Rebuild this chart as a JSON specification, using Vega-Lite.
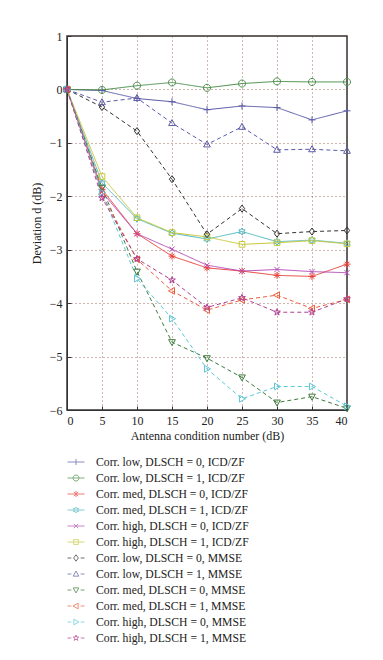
{
  "$schema": "https://vega.github.io/schema/vega-lite/v6.json",
  "width": 280,
  "height": 374,
  "padding": {"left": 30, "top": 30, "right": 5, "bottom": 5},
  "background": "white",
  "config": {
    "font": "Liberation Serif",
    "view": {"stroke": "#333333", "strokeWidth": 1.5},
    "axis": {
      "labelFont": "Liberation Serif", "labelFontSize": 12, "labelColor": "#222222",
      "titleFont": "Liberation Serif", "titleFontSize": 12, "titleColor": "#222222", "titleFontWeight": "normal",
      "domainColor": "#333333", "tickColor": "#333333", "tickSize": -4, "labelPadding": 9,
      "gridColor": "#8a4a3a", "gridDash": [1, 3], "gridOpacity": 0.8
    },
    "legend": {"labelFont": "Liberation Serif", "labelFontSize": 11.7, "labelColor": "#222222"}
  },
  "data": {"values": [
    {"s":"Corr. low, DLSCH = 0, ICD/ZF","m":"ICD/ZF","x":0,"y":0},
    {"s":"Corr. low, DLSCH = 0, ICD/ZF","m":"ICD/ZF","x":5,"y":-0.02},
    {"s":"Corr. low, DLSCH = 0, ICD/ZF","m":"ICD/ZF","x":10,"y":-0.17},
    {"s":"Corr. low, DLSCH = 0, ICD/ZF","m":"ICD/ZF","x":15,"y":-0.23},
    {"s":"Corr. low, DLSCH = 0, ICD/ZF","m":"ICD/ZF","x":20,"y":-0.38},
    {"s":"Corr. low, DLSCH = 0, ICD/ZF","m":"ICD/ZF","x":25,"y":-0.31},
    {"s":"Corr. low, DLSCH = 0, ICD/ZF","m":"ICD/ZF","x":30,"y":-0.34},
    {"s":"Corr. low, DLSCH = 0, ICD/ZF","m":"ICD/ZF","x":35,"y":-0.57},
    {"s":"Corr. low, DLSCH = 0, ICD/ZF","m":"ICD/ZF","x":40,"y":-0.4},
    {"s":"Corr. low, DLSCH = 1, ICD/ZF","m":"ICD/ZF","x":0,"y":0},
    {"s":"Corr. low, DLSCH = 1, ICD/ZF","m":"ICD/ZF","x":5,"y":-0.01},
    {"s":"Corr. low, DLSCH = 1, ICD/ZF","m":"ICD/ZF","x":10,"y":0.07},
    {"s":"Corr. low, DLSCH = 1, ICD/ZF","m":"ICD/ZF","x":15,"y":0.13},
    {"s":"Corr. low, DLSCH = 1, ICD/ZF","m":"ICD/ZF","x":20,"y":0.03},
    {"s":"Corr. low, DLSCH = 1, ICD/ZF","m":"ICD/ZF","x":25,"y":0.11},
    {"s":"Corr. low, DLSCH = 1, ICD/ZF","m":"ICD/ZF","x":30,"y":0.15},
    {"s":"Corr. low, DLSCH = 1, ICD/ZF","m":"ICD/ZF","x":35,"y":0.14},
    {"s":"Corr. low, DLSCH = 1, ICD/ZF","m":"ICD/ZF","x":40,"y":0.14},
    {"s":"Corr. med, DLSCH = 0, ICD/ZF","m":"ICD/ZF","x":0,"y":0},
    {"s":"Corr. med, DLSCH = 0, ICD/ZF","m":"ICD/ZF","x":5,"y":-1.87},
    {"s":"Corr. med, DLSCH = 0, ICD/ZF","m":"ICD/ZF","x":10,"y":-2.7},
    {"s":"Corr. med, DLSCH = 0, ICD/ZF","m":"ICD/ZF","x":15,"y":-3.12},
    {"s":"Corr. med, DLSCH = 0, ICD/ZF","m":"ICD/ZF","x":20,"y":-3.34},
    {"s":"Corr. med, DLSCH = 0, ICD/ZF","m":"ICD/ZF","x":25,"y":-3.4},
    {"s":"Corr. med, DLSCH = 0, ICD/ZF","m":"ICD/ZF","x":30,"y":-3.48},
    {"s":"Corr. med, DLSCH = 0, ICD/ZF","m":"ICD/ZF","x":35,"y":-3.5},
    {"s":"Corr. med, DLSCH = 0, ICD/ZF","m":"ICD/ZF","x":40,"y":-3.27},
    {"s":"Corr. med, DLSCH = 1, ICD/ZF","m":"ICD/ZF","x":0,"y":0},
    {"s":"Corr. med, DLSCH = 1, ICD/ZF","m":"ICD/ZF","x":5,"y":-1.75},
    {"s":"Corr. med, DLSCH = 1, ICD/ZF","m":"ICD/ZF","x":10,"y":-2.42},
    {"s":"Corr. med, DLSCH = 1, ICD/ZF","m":"ICD/ZF","x":15,"y":-2.69},
    {"s":"Corr. med, DLSCH = 1, ICD/ZF","m":"ICD/ZF","x":20,"y":-2.8},
    {"s":"Corr. med, DLSCH = 1, ICD/ZF","m":"ICD/ZF","x":25,"y":-2.66},
    {"s":"Corr. med, DLSCH = 1, ICD/ZF","m":"ICD/ZF","x":30,"y":-2.85},
    {"s":"Corr. med, DLSCH = 1, ICD/ZF","m":"ICD/ZF","x":35,"y":-2.82},
    {"s":"Corr. med, DLSCH = 1, ICD/ZF","m":"ICD/ZF","x":40,"y":-2.88},
    {"s":"Corr. high, DLSCH = 0, ICD/ZF","m":"ICD/ZF","x":0,"y":0},
    {"s":"Corr. high, DLSCH = 0, ICD/ZF","m":"ICD/ZF","x":5,"y":-1.92},
    {"s":"Corr. high, DLSCH = 0, ICD/ZF","m":"ICD/ZF","x":10,"y":-2.7},
    {"s":"Corr. high, DLSCH = 0, ICD/ZF","m":"ICD/ZF","x":15,"y":-2.99},
    {"s":"Corr. high, DLSCH = 0, ICD/ZF","m":"ICD/ZF","x":20,"y":-3.29},
    {"s":"Corr. high, DLSCH = 0, ICD/ZF","m":"ICD/ZF","x":25,"y":-3.4},
    {"s":"Corr. high, DLSCH = 0, ICD/ZF","m":"ICD/ZF","x":30,"y":-3.37},
    {"s":"Corr. high, DLSCH = 0, ICD/ZF","m":"ICD/ZF","x":35,"y":-3.41},
    {"s":"Corr. high, DLSCH = 0, ICD/ZF","m":"ICD/ZF","x":40,"y":-3.43},
    {"s":"Corr. high, DLSCH = 1, ICD/ZF","m":"ICD/ZF","x":0,"y":0},
    {"s":"Corr. high, DLSCH = 1, ICD/ZF","m":"ICD/ZF","x":5,"y":-1.63},
    {"s":"Corr. high, DLSCH = 1, ICD/ZF","m":"ICD/ZF","x":10,"y":-2.4},
    {"s":"Corr. high, DLSCH = 1, ICD/ZF","m":"ICD/ZF","x":15,"y":-2.68},
    {"s":"Corr. high, DLSCH = 1, ICD/ZF","m":"ICD/ZF","x":20,"y":-2.76},
    {"s":"Corr. high, DLSCH = 1, ICD/ZF","m":"ICD/ZF","x":25,"y":-2.9},
    {"s":"Corr. high, DLSCH = 1, ICD/ZF","m":"ICD/ZF","x":30,"y":-2.87},
    {"s":"Corr. high, DLSCH = 1, ICD/ZF","m":"ICD/ZF","x":35,"y":-2.83},
    {"s":"Corr. high, DLSCH = 1, ICD/ZF","m":"ICD/ZF","x":40,"y":-2.89},
    {"s":"Corr. low, DLSCH = 0, MMSE","m":"MMSE","x":0,"y":0},
    {"s":"Corr. low, DLSCH = 0, MMSE","m":"MMSE","x":5,"y":-0.33},
    {"s":"Corr. low, DLSCH = 0, MMSE","m":"MMSE","x":10,"y":-0.78},
    {"s":"Corr. low, DLSCH = 0, MMSE","m":"MMSE","x":15,"y":-1.68},
    {"s":"Corr. low, DLSCH = 0, MMSE","m":"MMSE","x":20,"y":-2.71},
    {"s":"Corr. low, DLSCH = 0, MMSE","m":"MMSE","x":25,"y":-2.23},
    {"s":"Corr. low, DLSCH = 0, MMSE","m":"MMSE","x":30,"y":-2.7},
    {"s":"Corr. low, DLSCH = 0, MMSE","m":"MMSE","x":35,"y":-2.66},
    {"s":"Corr. low, DLSCH = 0, MMSE","m":"MMSE","x":40,"y":-2.64},
    {"s":"Corr. low, DLSCH = 1, MMSE","m":"MMSE","x":0,"y":0},
    {"s":"Corr. low, DLSCH = 1, MMSE","m":"MMSE","x":5,"y":-0.24},
    {"s":"Corr. low, DLSCH = 1, MMSE","m":"MMSE","x":10,"y":-0.16},
    {"s":"Corr. low, DLSCH = 1, MMSE","m":"MMSE","x":15,"y":-0.63},
    {"s":"Corr. low, DLSCH = 1, MMSE","m":"MMSE","x":20,"y":-1.03},
    {"s":"Corr. low, DLSCH = 1, MMSE","m":"MMSE","x":25,"y":-0.7},
    {"s":"Corr. low, DLSCH = 1, MMSE","m":"MMSE","x":30,"y":-1.13},
    {"s":"Corr. low, DLSCH = 1, MMSE","m":"MMSE","x":35,"y":-1.12},
    {"s":"Corr. low, DLSCH = 1, MMSE","m":"MMSE","x":40,"y":-1.15},
    {"s":"Corr. med, DLSCH = 0, MMSE","m":"MMSE","x":0,"y":0},
    {"s":"Corr. med, DLSCH = 0, MMSE","m":"MMSE","x":5,"y":-1.84},
    {"s":"Corr. med, DLSCH = 0, MMSE","m":"MMSE","x":10,"y":-3.41},
    {"s":"Corr. med, DLSCH = 0, MMSE","m":"MMSE","x":15,"y":-4.73},
    {"s":"Corr. med, DLSCH = 0, MMSE","m":"MMSE","x":20,"y":-5.03},
    {"s":"Corr. med, DLSCH = 0, MMSE","m":"MMSE","x":25,"y":-5.39},
    {"s":"Corr. med, DLSCH = 0, MMSE","m":"MMSE","x":30,"y":-5.86},
    {"s":"Corr. med, DLSCH = 0, MMSE","m":"MMSE","x":35,"y":-5.75},
    {"s":"Corr. med, DLSCH = 0, MMSE","m":"MMSE","x":40,"y":-5.97},
    {"s":"Corr. med, DLSCH = 1, MMSE","m":"MMSE","x":0,"y":0},
    {"s":"Corr. med, DLSCH = 1, MMSE","m":"MMSE","x":5,"y":-1.96},
    {"s":"Corr. med, DLSCH = 1, MMSE","m":"MMSE","x":10,"y":-3.18},
    {"s":"Corr. med, DLSCH = 1, MMSE","m":"MMSE","x":15,"y":-3.77},
    {"s":"Corr. med, DLSCH = 1, MMSE","m":"MMSE","x":20,"y":-4.13},
    {"s":"Corr. med, DLSCH = 1, MMSE","m":"MMSE","x":25,"y":-3.94},
    {"s":"Corr. med, DLSCH = 1, MMSE","m":"MMSE","x":30,"y":-3.85},
    {"s":"Corr. med, DLSCH = 1, MMSE","m":"MMSE","x":35,"y":-4.1},
    {"s":"Corr. med, DLSCH = 1, MMSE","m":"MMSE","x":40,"y":-3.93},
    {"s":"Corr. high, DLSCH = 0, MMSE","m":"MMSE","x":0,"y":0},
    {"s":"Corr. high, DLSCH = 0, MMSE","m":"MMSE","x":5,"y":-1.93},
    {"s":"Corr. high, DLSCH = 0, MMSE","m":"MMSE","x":10,"y":-3.54},
    {"s":"Corr. high, DLSCH = 0, MMSE","m":"MMSE","x":15,"y":-4.29},
    {"s":"Corr. high, DLSCH = 0, MMSE","m":"MMSE","x":20,"y":-5.23},
    {"s":"Corr. high, DLSCH = 0, MMSE","m":"MMSE","x":25,"y":-5.79},
    {"s":"Corr. high, DLSCH = 0, MMSE","m":"MMSE","x":30,"y":-5.56},
    {"s":"Corr. high, DLSCH = 0, MMSE","m":"MMSE","x":35,"y":-5.56},
    {"s":"Corr. high, DLSCH = 0, MMSE","m":"MMSE","x":40,"y":-5.93},
    {"s":"Corr. high, DLSCH = 1, MMSE","m":"MMSE","x":0,"y":0},
    {"s":"Corr. high, DLSCH = 1, MMSE","m":"MMSE","x":5,"y":-2.03},
    {"s":"Corr. high, DLSCH = 1, MMSE","m":"MMSE","x":10,"y":-3.17},
    {"s":"Corr. high, DLSCH = 1, MMSE","m":"MMSE","x":15,"y":-3.57},
    {"s":"Corr. high, DLSCH = 1, MMSE","m":"MMSE","x":20,"y":-4.08},
    {"s":"Corr. high, DLSCH = 1, MMSE","m":"MMSE","x":25,"y":-3.9},
    {"s":"Corr. high, DLSCH = 1, MMSE","m":"MMSE","x":30,"y":-4.17},
    {"s":"Corr. high, DLSCH = 1, MMSE","m":"MMSE","x":35,"y":-4.17},
    {"s":"Corr. high, DLSCH = 1, MMSE","m":"MMSE","x":40,"y":-3.92}
  ]},
  "encoding": {
    "x": {"field": "x", "type": "quantitative", "scale": {"domain": [0, 40], "nice": false},
      "axis": {"title": "Antenna condition number (dB)", "values": [0,5,10,15,20,25,30,35,40], "grid": true, "titlePadding": 4}},
    "y": {"field": "y", "type": "quantitative", "scale": {"domain": [-6, 1], "nice": false},
      "axis": {"title": "Deviation d (dB)", "values": [-6,-5,-4,-3,-2,-1,0,1], "grid": true, "titlePadding": 6}}
  },
  "layer": [
    {
      "mark": {"type": "line", "strokeWidth": 1},
      "encoding": {
        "detail": {"field": "s"},
        "color": {"field": "s", "type": "nominal", "legend": null,
          "scale": {"domain": ["Corr. low, DLSCH = 0, ICD/ZF","Corr. low, DLSCH = 1, ICD/ZF","Corr. med, DLSCH = 0, ICD/ZF","Corr. med, DLSCH = 1, ICD/ZF","Corr. high, DLSCH = 0, ICD/ZF","Corr. high, DLSCH = 1, ICD/ZF","Corr. low, DLSCH = 0, MMSE","Corr. low, DLSCH = 1, MMSE","Corr. med, DLSCH = 0, MMSE","Corr. med, DLSCH = 1, MMSE","Corr. high, DLSCH = 0, MMSE","Corr. high, DLSCH = 1, MMSE"],
            "range": ["#5a5aa8","#4a8f4a","#e8423a","#4fb8c0","#b64fb8","#c8c83a","#333333","#5a5aa8","#3d7a3d","#f05a3a","#5cc8d8","#b0408f"]}},
        "strokeDash": {"field": "m", "type": "nominal", "legend": null,
          "scale": {"domain": ["ICD/ZF", "MMSE"], "range": [[1, 0], [4, 3]]}}
      }
    },
    {
      "mark": {"type": "point", "filled": false, "size": 50, "strokeWidth": 1, "opacity": 1},
      "encoding": {
        "color": {"field": "s", "type": "nominal", "legend": null},
        "shape": {"field": "s", "type": "nominal", "legend": null,
          "scale": {"domain": ["Corr. low, DLSCH = 0, ICD/ZF","Corr. low, DLSCH = 1, ICD/ZF","Corr. med, DLSCH = 0, ICD/ZF","Corr. med, DLSCH = 1, ICD/ZF","Corr. high, DLSCH = 0, ICD/ZF","Corr. high, DLSCH = 1, ICD/ZF","Corr. low, DLSCH = 0, MMSE","Corr. low, DLSCH = 1, MMSE","Corr. med, DLSCH = 0, MMSE","Corr. med, DLSCH = 1, MMSE","Corr. high, DLSCH = 0, MMSE","Corr. high, DLSCH = 1, MMSE"],
            "range": [
              "M-1,0H1M0,-1V1",
              "M1,0A1,1 0 1,1 -1,0A1,1 0 1,1 1,0Z",
              "M-1,0H1M0,-1V1M-0.7,-0.7L0.7,0.7M-0.7,0.7L0.7,-0.7",
              "M0,-1L0.289,-0.5L0.866,-0.5L0.578,0L0.866,0.5L0.289,0.5L0,1L-0.289,0.5L-0.866,0.5L-0.578,0L-0.866,-0.5L-0.289,-0.5Z",
              "M-0.75,-0.75L0.75,0.75M-0.75,0.75L0.75,-0.75",
              "M-0.8,-0.8H0.8V0.8H-0.8Z",
              "M0,-1L0.75,0L0,1L-0.75,0Z",
              "M0,-1L0.95,0.7H-0.95Z",
              "M0,1L0.95,-0.7H-0.95Z",
              "M-1,0L0.7,-0.95V0.95Z",
              "M1,0L-0.7,-0.95V0.95Z",
              "M0,-1L0.235,-0.324L0.951,-0.309L0.38,0.124L0.588,0.809L0,0.4L-0.588,0.809L-0.38,0.124L-0.951,-0.309L-0.235,-0.324Z"
            ]}}
      }
    },
    {
      "transform": [{"filter": "datum.x > 100"}],
      "mark": {"type": "point", "filled": false, "strokeWidth": 1},
      "encoding": {
        "shape": {"field": "s", "type": "nominal",
          "legend": {"orient": "bottom", "direction": "vertical", "title": null, "symbolSize": 289, "symbolStrokeWidth": 1, "labelOffset": 11, "rowPadding": -0.8, "offset": 12, "labelLimit": 300},
          "scale": {"domain": ["Corr. low, DLSCH = 0, ICD/ZF","Corr. low, DLSCH = 1, ICD/ZF","Corr. med, DLSCH = 0, ICD/ZF","Corr. med, DLSCH = 1, ICD/ZF","Corr. high, DLSCH = 0, ICD/ZF","Corr. high, DLSCH = 1, ICD/ZF","Corr. low, DLSCH = 0, MMSE","Corr. low, DLSCH = 1, MMSE","Corr. med, DLSCH = 0, MMSE","Corr. med, DLSCH = 1, MMSE","Corr. high, DLSCH = 0, MMSE","Corr. high, DLSCH = 1, MMSE"],
            "range": [
              "M-1,0H1M0,-0.35V0.35",
              "M-1,0H1M0.35,0A0.35,0.35 0 1,1 -0.35,0A0.35,0.35 0 1,1 0.35,0Z",
              "M-1,0H1M0,-0.35V0.35M-0.25,-0.25L0.25,0.25M-0.25,0.25L0.25,-0.25",
              "M-1,0H1M0,-0.35L0.101,-0.175L0.303,-0.175L0.202,0L0.303,0.175L0.101,0.175L0,0.35L-0.101,0.175L-0.303,0.175L-0.202,0L-0.303,-0.175L-0.101,-0.175Z",
              "M-1,0H1M-0.26,-0.26L0.26,0.26M-0.26,0.26L0.26,-0.26",
              "M-1,0H1M-0.28,-0.28H0.28V0.28H-0.28Z",
              "M-1,0H-0.55M0.55,0H1M0,-0.38L0.28,0L0,0.38L-0.28,0Z",
              "M-1,0H-0.55M0.55,0H1M0,-0.35L0.33,0.25H-0.33Z",
              "M-1,0H-0.55M0.55,0H1M0,0.35L0.33,-0.25H-0.33Z",
              "M-1,0H-0.55M0.55,0H1M-0.35,0L0.25,-0.33V0.33Z",
              "M-1,0H-0.55M0.55,0H1M0.35,0L-0.25,-0.33V0.33Z",
              "M-1,0H-0.55M0.55,0H1M0,-0.35L0.082,-0.113L0.333,-0.108L0.133,0.043L0.206,0.283L0,0.14L-0.206,0.283L-0.133,0.043L-0.333,-0.108L-0.082,-0.113Z"
            ]}},
        "stroke": {"field": "s", "type": "nominal",
          "legend": {"orient": "bottom", "direction": "vertical", "title": null, "symbolSize": 289, "symbolStrokeWidth": 1, "labelOffset": 11, "rowPadding": -0.8, "offset": 12, "labelLimit": 300},
          "scale": {"domain": ["Corr. low, DLSCH = 0, ICD/ZF","Corr. low, DLSCH = 1, ICD/ZF","Corr. med, DLSCH = 0, ICD/ZF","Corr. med, DLSCH = 1, ICD/ZF","Corr. high, DLSCH = 0, ICD/ZF","Corr. high, DLSCH = 1, ICD/ZF","Corr. low, DLSCH = 0, MMSE","Corr. low, DLSCH = 1, MMSE","Corr. med, DLSCH = 0, MMSE","Corr. med, DLSCH = 1, MMSE","Corr. high, DLSCH = 0, MMSE","Corr. high, DLSCH = 1, MMSE"],
            "range": ["#5a5aa8","#4a8f4a","#e8423a","#4fb8c0","#b64fb8","#c8c83a","#333333","#5a5aa8","#3d7a3d","#f05a3a","#5cc8d8","#b0408f"]}}
      }
    }
  ],
  "resolve": {
    "scale": {"shape": "independent", "stroke": "independent"},
    "legend": {"shape": "independent", "stroke": "independent"}
  }
}
